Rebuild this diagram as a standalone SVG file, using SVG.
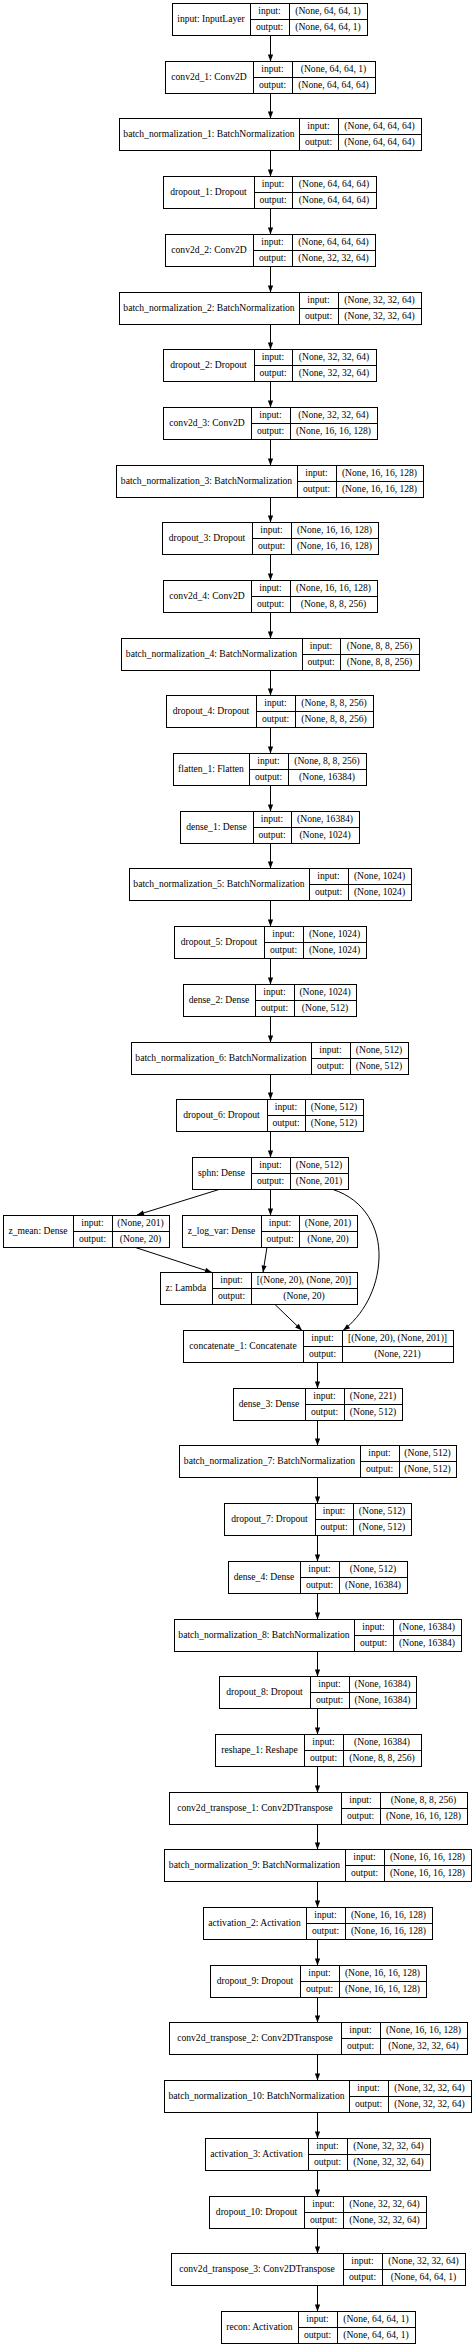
<svg xmlns="http://www.w3.org/2000/svg" width="474" height="2346" viewBox="0 0 474 2346">
<style>
.b{fill:#fff;stroke:#000;stroke-width:1}
.l{fill:none;stroke:#000;stroke-width:1}
.e{fill:none;stroke:#000;stroke-width:1;marker-end:url(#ah)}
text{font-family:"Liberation Serif","Times New Roman",serif;font-size:9.6px;text-anchor:middle;fill:#000}
</style>
<defs>
<marker id="ah" markerUnits="userSpaceOnUse" markerWidth="8" markerHeight="6" viewBox="0 0 7 6" refX="7" refY="3" orient="auto"><path d="M0,0.4L7,3L0,5.6z" fill="#000"/></marker>
</defs>
<rect width="474" height="2346" fill="#fff"/>
<g id="connectors">
<path class="e" d="M270.5,35.5V61.5"/>
<path class="e" d="M270.5,93.5V118.5"/>
<path class="e" d="M270.5,150.5V176.5"/>
<path class="e" d="M270.5,208.5V234.5"/>
<path class="e" d="M270.5,266.5V292.5"/>
<path class="e" d="M270.5,324.5V349.5"/>
<path class="e" d="M270.5,381.5V407.5"/>
<path class="e" d="M270.5,439.5V465.5"/>
<path class="e" d="M270.5,497.5V522.5"/>
<path class="e" d="M270.5,554.5V580.5"/>
<path class="e" d="M270.5,612.5V638.5"/>
<path class="e" d="M270.5,670.5V695.5"/>
<path class="e" d="M270.5,727.5V753.5"/>
<path class="e" d="M270.5,785.5V811.5"/>
<path class="e" d="M270.5,843.5V868.5"/>
<path class="e" d="M270.5,900.5V926.5"/>
<path class="e" d="M270.5,958.5V984.5"/>
<path class="e" d="M270.5,1016.5V1042.5"/>
<path class="e" d="M270.5,1074.5V1099.5"/>
<path class="e" d="M270.5,1131.5V1157.5"/>
<path class="e" d="M219,1189.5L137,1215"/>
<path class="e" d="M270.5,1189.5V1215.5"/>
<path class="e" d="M333,1189.5C365,1200 380,1228 379,1258C378,1290 362,1316 343,1330.5"/>
<path class="e" d="M134,1247L212,1272.5"/>
<path class="e" d="M267,1247L263,1272.5"/>
<path class="e" d="M275,1304.5L302,1330.5"/>
<path class="e" d="M317.5,1362.5V1388.5"/>
<path class="e" d="M317.5,1420.5V1445.5"/>
<path class="e" d="M317.5,1477.5V1503.5"/>
<path class="e" d="M317.5,1535.5V1561.5"/>
<path class="e" d="M317.5,1593.5V1619.5"/>
<path class="e" d="M317.5,1651.5V1676.5"/>
<path class="e" d="M317.5,1708.5V1734.5"/>
<path class="e" d="M317.5,1766.5V1792.5"/>
<path class="e" d="M317.5,1824.5V1849.5"/>
<path class="e" d="M317.5,1881.5V1907.5"/>
<path class="e" d="M317.5,1939.5V1965.5"/>
<path class="e" d="M317.5,1997.5V2022.5"/>
<path class="e" d="M317.5,2054.5V2080.5"/>
<path class="e" d="M317.5,2112.5V2138.5"/>
<path class="e" d="M317.5,2170.5V2196.5"/>
<path class="e" d="M317.5,2228.5V2253.5"/>
<path class="e" d="M317.5,2285.5V2311.5"/>
</g>
<g id="input" transform="translate(0,3)"><rect class="b" x="172.5" y="0.5" width="195" height="32"/><path class="l" d="M250.5,0.5V32.5M289.5,0.5V32.5M250.5,16.5H367.5"/><text x="211" y="19">input: InputLayer</text><text x="269.5" y="11">input:</text><text x="269.5" y="27">output:</text><text x="328" y="11">(None, 64, 64, 1)</text><text x="328" y="27">(None, 64, 64, 1)</text></g>
<g id="conv2d_1" transform="translate(0,61)"><rect class="b" x="165.5" y="0.5" width="210" height="32"/><path class="l" d="M253.5,0.5V32.5M292.5,0.5V32.5M253.5,16.5H375.5"/><text x="209" y="19">conv2d_1: Conv2D</text><text x="272.5" y="11">input:</text><text x="272.5" y="27">output:</text><text x="333.5" y="11">(None, 64, 64, 1)</text><text x="333.5" y="27">(None, 64, 64, 64)</text></g>
<g id="batch_normalization_1" transform="translate(0,118)"><rect class="b" x="119.5" y="0.5" width="302" height="32"/><path class="l" d="M299.5,0.5V32.5M338.5,0.5V32.5M299.5,16.5H421.5"/><text x="209" y="19">batch_normalization_1: BatchNormalization</text><text x="318.5" y="11">input:</text><text x="318.5" y="27">output:</text><text x="379.5" y="11">(None, 64, 64, 64)</text><text x="379.5" y="27">(None, 64, 64, 64)</text></g>
<g id="dropout_1" transform="translate(0,176)"><rect class="b" x="163.5" y="0.5" width="213" height="32"/><path class="l" d="M254.5,0.5V32.5M292.5,0.5V32.5M254.5,16.5H376.5"/><text x="208.5" y="19">dropout_1: Dropout</text><text x="273" y="11">input:</text><text x="273" y="27">output:</text><text x="334" y="11">(None, 64, 64, 64)</text><text x="334" y="27">(None, 64, 64, 64)</text></g>
<g id="conv2d_2" transform="translate(0,234)"><rect class="b" x="165.5" y="0.5" width="210" height="32"/><path class="l" d="M253.5,0.5V32.5M292.5,0.5V32.5M253.5,16.5H375.5"/><text x="209" y="19">conv2d_2: Conv2D</text><text x="272.5" y="11">input:</text><text x="272.5" y="27">output:</text><text x="333.5" y="11">(None, 64, 64, 64)</text><text x="333.5" y="27">(None, 32, 32, 64)</text></g>
<g id="batch_normalization_2" transform="translate(0,292)"><rect class="b" x="119.5" y="0.5" width="302" height="32"/><path class="l" d="M299.5,0.5V32.5M338.5,0.5V32.5M299.5,16.5H421.5"/><text x="209" y="19">batch_normalization_2: BatchNormalization</text><text x="318.5" y="11">input:</text><text x="318.5" y="27">output:</text><text x="379.5" y="11">(None, 32, 32, 64)</text><text x="379.5" y="27">(None, 32, 32, 64)</text></g>
<g id="dropout_2" transform="translate(0,349)"><rect class="b" x="163.5" y="0.5" width="213" height="32"/><path class="l" d="M254.5,0.5V32.5M292.5,0.5V32.5M254.5,16.5H376.5"/><text x="208.5" y="19">dropout_2: Dropout</text><text x="273" y="11">input:</text><text x="273" y="27">output:</text><text x="334" y="11">(None, 32, 32, 64)</text><text x="334" y="27">(None, 32, 32, 64)</text></g>
<g id="conv2d_3" transform="translate(0,407)"><rect class="b" x="163.5" y="0.5" width="214" height="32"/><path class="l" d="M251.5,0.5V32.5M290.5,0.5V32.5M251.5,16.5H377.5"/><text x="207" y="19">conv2d_3: Conv2D</text><text x="270.5" y="11">input:</text><text x="270.5" y="27">output:</text><text x="333.5" y="11">(None, 32, 32, 64)</text><text x="333.5" y="27">(None, 16, 16, 128)</text></g>
<g id="batch_normalization_3" transform="translate(0,465)"><rect class="b" x="116.5" y="0.5" width="307" height="32"/><path class="l" d="M297.5,0.5V32.5M336.5,0.5V32.5M297.5,16.5H423.5"/><text x="206.5" y="19">batch_normalization_3: BatchNormalization</text><text x="316.5" y="11">input:</text><text x="316.5" y="27">output:</text><text x="379.5" y="11">(None, 16, 16, 128)</text><text x="379.5" y="27">(None, 16, 16, 128)</text></g>
<g id="dropout_3" transform="translate(0,522)"><rect class="b" x="162.5" y="0.5" width="216" height="32"/><path class="l" d="M252.5,0.5V32.5M291.5,0.5V32.5M252.5,16.5H378.5"/><text x="207" y="19">dropout_3: Dropout</text><text x="271.5" y="11">input:</text><text x="271.5" y="27">output:</text><text x="334.5" y="11">(None, 16, 16, 128)</text><text x="334.5" y="27">(None, 16, 16, 128)</text></g>
<g id="conv2d_4" transform="translate(0,580)"><rect class="b" x="163.5" y="0.5" width="214" height="32"/><path class="l" d="M251.5,0.5V32.5M290.5,0.5V32.5M251.5,16.5H377.5"/><text x="207" y="19">conv2d_4: Conv2D</text><text x="270.5" y="11">input:</text><text x="270.5" y="27">output:</text><text x="333.5" y="11">(None, 16, 16, 128)</text><text x="333.5" y="27">(None, 8, 8, 256)</text></g>
<g id="batch_normalization_4" transform="translate(0,638)"><rect class="b" x="121.5" y="0.5" width="298" height="32"/><path class="l" d="M302.5,0.5V32.5M340.5,0.5V32.5M302.5,16.5H419.5"/><text x="211.5" y="19">batch_normalization_4: BatchNormalization</text><text x="321" y="11">input:</text><text x="321" y="27">output:</text><text x="379.5" y="11">(None, 8, 8, 256)</text><text x="379.5" y="27">(None, 8, 8, 256)</text></g>
<g id="dropout_4" transform="translate(0,695)"><rect class="b" x="166.5" y="0.5" width="207" height="32"/><path class="l" d="M256.5,0.5V32.5M295.5,0.5V32.5M256.5,16.5H373.5"/><text x="211" y="19">dropout_4: Dropout</text><text x="275.5" y="11">input:</text><text x="275.5" y="27">output:</text><text x="334" y="11">(None, 8, 8, 256)</text><text x="334" y="27">(None, 8, 8, 256)</text></g>
<g id="flatten_1" transform="translate(0,753)"><rect class="b" x="173.5" y="0.5" width="193" height="32"/><path class="l" d="M249.5,0.5V32.5M288.5,0.5V32.5M249.5,16.5H366.5"/><text x="211" y="19">flatten_1: Flatten</text><text x="268.5" y="11">input:</text><text x="268.5" y="27">output:</text><text x="327" y="11">(None, 8, 8, 256)</text><text x="327" y="27">(None, 16384)</text></g>
<g id="dense_1" transform="translate(0,811)"><rect class="b" x="180.5" y="0.5" width="179" height="32"/><path class="l" d="M253.5,0.5V32.5M291.5,0.5V32.5M253.5,16.5H359.5"/><text x="216.5" y="19">dense_1: Dense</text><text x="272" y="11">input:</text><text x="272" y="27">output:</text><text x="325" y="11">(None, 16384)</text><text x="325" y="27">(None, 1024)</text></g>
<g id="batch_normalization_5" transform="translate(0,868)"><rect class="b" x="129.5" y="0.5" width="282" height="32"/><path class="l" d="M309.5,0.5V32.5M348.5,0.5V32.5M309.5,16.5H411.5"/><text x="219" y="19">batch_normalization_5: BatchNormalization</text><text x="328.5" y="11">input:</text><text x="328.5" y="27">output:</text><text x="379.5" y="11">(None, 1024)</text><text x="379.5" y="27">(None, 1024)</text></g>
<g id="dropout_5" transform="translate(0,926)"><rect class="b" x="174.5" y="0.5" width="192" height="32"/><path class="l" d="M264.5,0.5V32.5M303.5,0.5V32.5M264.5,16.5H366.5"/><text x="219" y="19">dropout_5: Dropout</text><text x="283.5" y="11">input:</text><text x="283.5" y="27">output:</text><text x="334.5" y="11">(None, 1024)</text><text x="334.5" y="27">(None, 1024)</text></g>
<g id="dense_2" transform="translate(0,984)"><rect class="b" x="183.5" y="0.5" width="173" height="32"/><path class="l" d="M255.5,0.5V32.5M294.5,0.5V32.5M255.5,16.5H356.5"/><text x="219" y="19">dense_2: Dense</text><text x="274.5" y="11">input:</text><text x="274.5" y="27">output:</text><text x="325" y="11">(None, 1024)</text><text x="325" y="27">(None, 512)</text></g>
<g id="batch_normalization_6" transform="translate(0,1042)"><rect class="b" x="131.5" y="0.5" width="277" height="32"/><path class="l" d="M311.5,0.5V32.5M350.5,0.5V32.5M311.5,16.5H408.5"/><text x="221" y="19">batch_normalization_6: BatchNormalization</text><text x="330.5" y="11">input:</text><text x="330.5" y="27">output:</text><text x="379" y="11">(None, 512)</text><text x="379" y="27">(None, 512)</text></g>
<g id="dropout_6" transform="translate(0,1099)"><rect class="b" x="176.5" y="0.5" width="187" height="32"/><path class="l" d="M267.5,0.5V32.5M305.5,0.5V32.5M267.5,16.5H363.5"/><text x="221.5" y="19">dropout_6: Dropout</text><text x="286" y="11">input:</text><text x="286" y="27">output:</text><text x="334" y="11">(None, 512)</text><text x="334" y="27">(None, 512)</text></g>
<g id="sphn" transform="translate(0,1157)"><rect class="b" x="192.5" y="0.5" width="156" height="32"/><path class="l" d="M251.5,0.5V32.5M290.5,0.5V32.5M251.5,16.5H348.5"/><text x="221.5" y="19">sphn: Dense</text><text x="270.5" y="11">input:</text><text x="270.5" y="27">output:</text><text x="319" y="11">(None, 512)</text><text x="319" y="27">(None, 201)</text></g>
<g id="z_mean" transform="translate(0,1215)"><rect class="b" x="3.5" y="0.5" width="166" height="32"/><path class="l" d="M73.5,0.5V32.5M112.5,0.5V32.5M73.5,16.5H169.5"/><text x="38" y="19">z_mean: Dense</text><text x="92.5" y="11">input:</text><text x="92.5" y="27">output:</text><text x="140.5" y="11">(None, 201)</text><text x="140.5" y="27">(None, 20)</text></g>
<g id="z_log_var" transform="translate(0,1215)"><rect class="b" x="182.5" y="0.5" width="175" height="32"/><path class="l" d="M261.5,0.5V32.5M299.5,0.5V32.5M261.5,16.5H357.5"/><text x="221.5" y="19">z_log_var: Dense</text><text x="280" y="11">input:</text><text x="280" y="27">output:</text><text x="328" y="11">(None, 201)</text><text x="328" y="27">(None, 20)</text></g>
<g id="z" transform="translate(0,1272)"><rect class="b" x="160.5" y="0.5" width="197" height="32"/><path class="l" d="M212.5,0.5V32.5M251.5,0.5V32.5M212.5,16.5H357.5"/><text x="186" y="19">z: Lambda</text><text x="231.5" y="11">input:</text><text x="231.5" y="27">output:</text><text x="304" y="11">[(None, 20), (None, 20)]</text><text x="304" y="27">(None, 20)</text></g>
<g id="concatenate_1" transform="translate(0,1330)"><rect class="b" x="183.5" y="0.5" width="270" height="32"/><path class="l" d="M303.5,0.5V32.5M342.5,0.5V32.5M303.5,16.5H453.5"/><text x="243" y="19">concatenate_1: Concatenate</text><text x="322.5" y="11">input:</text><text x="322.5" y="27">output:</text><text x="397.5" y="11">[(None, 20), (None, 201)]</text><text x="397.5" y="27">(None, 221)</text></g>
<g id="dense_3" transform="translate(0,1388)"><rect class="b" x="233.5" y="0.5" width="169" height="32"/><path class="l" d="M305.5,0.5V32.5M344.5,0.5V32.5M305.5,16.5H402.5"/><text x="269" y="19">dense_3: Dense</text><text x="324.5" y="11">input:</text><text x="324.5" y="27">output:</text><text x="373" y="11">(None, 221)</text><text x="373" y="27">(None, 512)</text></g>
<g id="batch_normalization_7" transform="translate(0,1445)"><rect class="b" x="179.5" y="0.5" width="277" height="32"/><path class="l" d="M360.5,0.5V32.5M399.5,0.5V32.5M360.5,16.5H456.5"/><text x="269.5" y="19">batch_normalization_7: BatchNormalization</text><text x="379.5" y="11">input:</text><text x="379.5" y="27">output:</text><text x="427.5" y="11">(None, 512)</text><text x="427.5" y="27">(None, 512)</text></g>
<g id="dropout_7" transform="translate(0,1503)"><rect class="b" x="224.5" y="0.5" width="187" height="32"/><path class="l" d="M315.5,0.5V32.5M353.5,0.5V32.5M315.5,16.5H411.5"/><text x="269.5" y="19">dropout_7: Dropout</text><text x="334" y="11">input:</text><text x="334" y="27">output:</text><text x="382" y="11">(None, 512)</text><text x="382" y="27">(None, 512)</text></g>
<g id="dense_4" transform="translate(0,1561)"><rect class="b" x="228.5" y="0.5" width="179" height="32"/><path class="l" d="M300.5,0.5V32.5M339.5,0.5V32.5M300.5,16.5H407.5"/><text x="264" y="19">dense_4: Dense</text><text x="319.5" y="11">input:</text><text x="319.5" y="27">output:</text><text x="373" y="11">(None, 512)</text><text x="373" y="27">(None, 16384)</text></g>
<g id="batch_normalization_8" transform="translate(0,1619)"><rect class="b" x="174.5" y="0.5" width="287" height="32"/><path class="l" d="M354.5,0.5V32.5M393.5,0.5V32.5M354.5,16.5H461.5"/><text x="264" y="19">batch_normalization_8: BatchNormalization</text><text x="373.5" y="11">input:</text><text x="373.5" y="27">output:</text><text x="427" y="11">(None, 16384)</text><text x="427" y="27">(None, 16384)</text></g>
<g id="dropout_8" transform="translate(0,1676)"><rect class="b" x="219.5" y="0.5" width="197" height="32"/><path class="l" d="M310.5,0.5V32.5M349.5,0.5V32.5M310.5,16.5H416.5"/><text x="264.5" y="19">dropout_8: Dropout</text><text x="329.5" y="11">input:</text><text x="329.5" y="27">output:</text><text x="382.5" y="11">(None, 16384)</text><text x="382.5" y="27">(None, 16384)</text></g>
<g id="reshape_1" transform="translate(0,1734)"><rect class="b" x="215.5" y="0.5" width="206" height="32"/><path class="l" d="M304.5,0.5V32.5M343.5,0.5V32.5M304.5,16.5H421.5"/><text x="259.5" y="19">reshape_1: Reshape</text><text x="323.5" y="11">input:</text><text x="323.5" y="27">output:</text><text x="382" y="11">(None, 16384)</text><text x="382" y="27">(None, 8, 8, 256)</text></g>
<g id="conv2d_transpose_1" transform="translate(0,1792)"><rect class="b" x="169.5" y="0.5" width="298" height="32"/><path class="l" d="M341.5,0.5V32.5M380.5,0.5V32.5M341.5,16.5H467.5"/><text x="255" y="19">conv2d_transpose_1: Conv2DTranspose</text><text x="360.5" y="11">input:</text><text x="360.5" y="27">output:</text><text x="423.5" y="11">(None, 8, 8, 256)</text><text x="423.5" y="27">(None, 16, 16, 128)</text></g>
<g id="batch_normalization_9" transform="translate(0,1849)"><rect class="b" x="164.5" y="0.5" width="307" height="32"/><path class="l" d="M345.5,0.5V32.5M384.5,0.5V32.5M345.5,16.5H471.5"/><text x="254.5" y="19">batch_normalization_9: BatchNormalization</text><text x="364.5" y="11">input:</text><text x="364.5" y="27">output:</text><text x="427.5" y="11">(None, 16, 16, 128)</text><text x="427.5" y="27">(None, 16, 16, 128)</text></g>
<g id="activation_2" transform="translate(0,1907)"><rect class="b" x="203.5" y="0.5" width="229" height="32"/><path class="l" d="M306.5,0.5V32.5M345.5,0.5V32.5M306.5,16.5H432.5"/><text x="254.5" y="19">activation_2: Activation</text><text x="325.5" y="11">input:</text><text x="325.5" y="27">output:</text><text x="388.5" y="11">(None, 16, 16, 128)</text><text x="388.5" y="27">(None, 16, 16, 128)</text></g>
<g id="dropout_9" transform="translate(0,1965)"><rect class="b" x="210.5" y="0.5" width="216" height="32"/><path class="l" d="M300.5,0.5V32.5M339.5,0.5V32.5M300.5,16.5H426.5"/><text x="255" y="19">dropout_9: Dropout</text><text x="319.5" y="11">input:</text><text x="319.5" y="27">output:</text><text x="382.5" y="11">(None, 16, 16, 128)</text><text x="382.5" y="27">(None, 16, 16, 128)</text></g>
<g id="conv2d_transpose_2" transform="translate(0,2022)"><rect class="b" x="169.5" y="0.5" width="298" height="32"/><path class="l" d="M341.5,0.5V32.5M380.5,0.5V32.5M341.5,16.5H467.5"/><text x="255" y="19">conv2d_transpose_2: Conv2DTranspose</text><text x="360.5" y="11">input:</text><text x="360.5" y="27">output:</text><text x="423.5" y="11">(None, 16, 16, 128)</text><text x="423.5" y="27">(None, 32, 32, 64)</text></g>
<g id="batch_normalization_10" transform="translate(0,2080)"><rect class="b" x="164.5" y="0.5" width="307" height="32"/><path class="l" d="M349.5,0.5V32.5M388.5,0.5V32.5M349.5,16.5H471.5"/><text x="256.5" y="19">batch_normalization_10: BatchNormalization</text><text x="368.5" y="11">input:</text><text x="368.5" y="27">output:</text><text x="429.5" y="11">(None, 32, 32, 64)</text><text x="429.5" y="27">(None, 32, 32, 64)</text></g>
<g id="activation_3" transform="translate(0,2138)"><rect class="b" x="205.5" y="0.5" width="225" height="32"/><path class="l" d="M308.5,0.5V32.5M347.5,0.5V32.5M308.5,16.5H430.5"/><text x="256.5" y="19">activation_3: Activation</text><text x="327.5" y="11">input:</text><text x="327.5" y="27">output:</text><text x="388.5" y="11">(None, 32, 32, 64)</text><text x="388.5" y="27">(None, 32, 32, 64)</text></g>
<g id="dropout_10" transform="translate(0,2196)"><rect class="b" x="209.5" y="0.5" width="217" height="32"/><path class="l" d="M304.5,0.5V32.5M343.5,0.5V32.5M304.5,16.5H426.5"/><text x="256.5" y="19">dropout_10: Dropout</text><text x="323.5" y="11">input:</text><text x="323.5" y="27">output:</text><text x="384.5" y="11">(None, 32, 32, 64)</text><text x="384.5" y="27">(None, 32, 32, 64)</text></g>
<g id="conv2d_transpose_3" transform="translate(0,2253)"><rect class="b" x="171.5" y="0.5" width="294" height="32"/><path class="l" d="M343.5,0.5V32.5M382.5,0.5V32.5M343.5,16.5H465.5"/><text x="257" y="19">conv2d_transpose_3: Conv2DTranspose</text><text x="362.5" y="11">input:</text><text x="362.5" y="27">output:</text><text x="423.5" y="11">(None, 32, 32, 64)</text><text x="423.5" y="27">(None, 64, 64, 1)</text></g>
<g id="recon" transform="translate(0,2311)"><rect class="b" x="221.5" y="0.5" width="194" height="32"/><path class="l" d="M298.5,0.5V32.5M337.5,0.5V32.5M298.5,16.5H415.5"/><text x="259.5" y="19">recon: Activation</text><text x="317.5" y="11">input:</text><text x="317.5" y="27">output:</text><text x="376" y="11">(None, 64, 64, 1)</text><text x="376" y="27">(None, 64, 64, 1)</text></g>
</svg>
